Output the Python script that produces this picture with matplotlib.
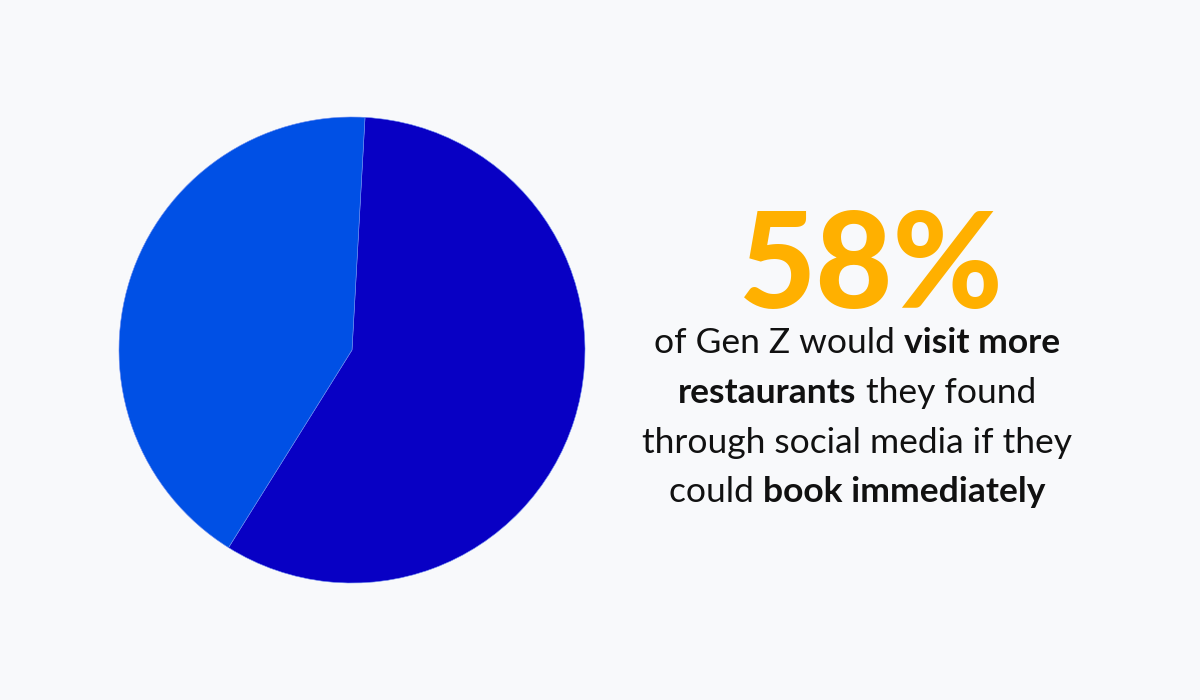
import matplotlib
matplotlib.use("Agg")
import matplotlib.pyplot as plt

shares = [58, 42]
colors = ["#0800C4", "#0050E5"]
headline = "58%"
lines = [
    [("of Gen Z would ", "normal"), ("visit more", "bold")],
    [("restaurants", "bold"), (" they found", "normal")],
    [("through social media if they", "normal")],
    [("could ", "normal"), ("book immediately", "bold")],
]

BG = "#F8F9FB"
W, H = 1200, 700
fig = plt.figure(figsize=(W / 100, H / 100), dpi=100, facecolor=BG)

# Pie: center (352,350), radius 233 px
cx, cy, r = 352, 350, 233
ax = fig.add_axes([(cx - r) / W, (H - cy - r) / H, 2 * r / W, 2 * r / H])
ax.set_facecolor(BG)
ax.pie(shares, colors=colors, startangle=86.8, counterclock=False,
       radius=1, wedgeprops=dict(edgecolor="#6E8CF0", linewidth=0.4))
ax.set_xlim(-1, 1)
ax.set_ylim(-1, 1)
ax.axis("off")

family = "Lato"

# Headline
fig.text(871 / W, 1 - 308 / H, headline, ha="center", va="baseline",
         fontsize=96, fontweight="black", color="#FFB000", family=family)

renderer = fig.canvas.get_renderer()
text_cx = 857
baselines = [353, 403, 453, 502]
fs = 25.5
for segs, by in zip(lines, baselines):
    objs = []
    for txt, wt in segs:
        t = fig.text(0, 1 - by / H, txt, ha="left", va="baseline",
                     fontsize=fs, fontweight=wt, color="#111111", family=family)
        objs.append(t)
    widths = [o.get_window_extent(renderer).width for o in objs]
    total = sum(widths)
    x = text_cx - total / 2
    for o, w in zip(objs, widths):
        o.set_x(x / W)
        x += w

fig.savefig("out.png", dpi=100, facecolor=BG)
